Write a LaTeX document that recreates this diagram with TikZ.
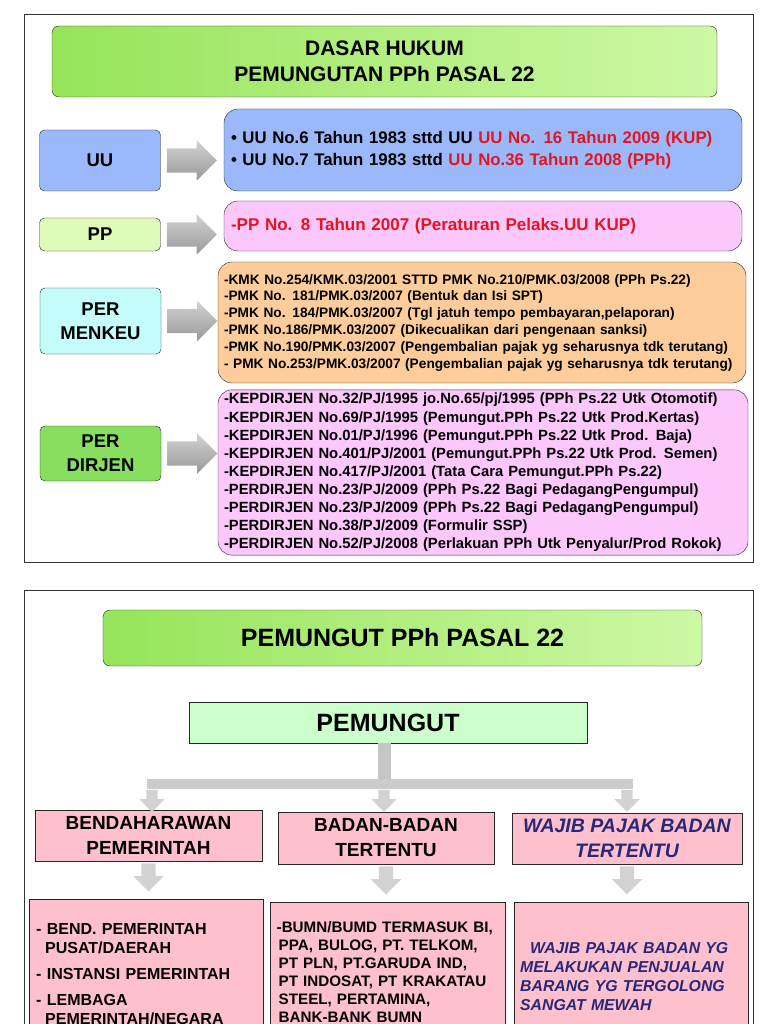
\documentclass[tikz,border=0pt]{standalone}
\usepackage{fontspec}
\setmainfont{Liberation Sans}
\usepackage{tikz}
\usetikzlibrary{shapes.arrows, positioning}
\definecolor{colorTitleL}{RGB}{150,228,90}
\definecolor{colorTitleR}{RGB}{205,248,165}
\definecolor{colorUU}{RGB}{155,185,250}
\definecolor{colorPP}{RGB}{222,250,185}
\definecolor{colorPink}{RGB}{252,200,252}
\definecolor{colorMenkeu}{RGB}{195,252,250}
\definecolor{colorOrange}{RGB}{252,205,155}
\definecolor{colorDirjen}{RGB}{135,222,95}
\definecolor{colorPemungut}{RGB}{205,255,205}
\definecolor{colorRose}{RGB}{255,192,205}
\definecolor{colorRed}{RGB}{230,20,30}
\definecolor{colorNavy}{RGB}{40,40,120}
\tikzset{
  title/.style={draw=black!85, rounded corners=7pt, left color=colorTitleL, right color=colorTitleR, align=center, font=\bfseries},
  kind/.style={draw=black!85, rounded corners=5pt, align=center, minimum width=121pt, font=\bfseries\fontsize{18.5}{24}\selectfont},
  rule/.style={draw=black!85, rounded corners=14pt, align=left, inner xsep=8pt, font=\bfseries},
  group/.style={draw=black!85, fill=colorRose, align=center, font=\bfseries\fontsize{19}{25}\selectfont},
  list/.style={draw=black!85, fill=colorRose, align=left, anchor=north west, font=\bfseries\fontsize{16}{26}\selectfont},
  fat/.style={single arrow, single arrow head extend=8pt, minimum height=50pt, text height=24pt, text depth=0pt, inner sep=0pt, top color=gray!35, bottom color=gray!80, draw=none},
  down/.style={single arrow, shape border rotate=270, text height=0pt, text depth=0pt, inner sep=0pt, fill=gray!35, draw=none},
}
\begin{document}
\begin{tikzpicture}[x=1pt, y=-1pt]
\useasboundingbox (0,0) rectangle (768,1024);
\draw[black!80] (24,14) rectangle (753,562);
\draw[black!80] (24,590) rectangle (753,1030);
% dasar hukum
\node[title, minimum width=665pt, minimum height=71pt, font=\bfseries\fontsize{21}{26}\selectfont] (dasar) at (384.5,61.5) {DASAR HUKUM\\PEMUNGUTAN PPh PASAL 22};
\node[kind, fill=colorUU, minimum height=61pt] (uu) at (100,160.5) {UU};
\node[kind, fill=colorPP, minimum height=33pt] (pp) at (100,234.5) {PP};
\node[kind, fill=colorMenkeu, minimum height=66pt] (menkeu) at (100.5,321) {PER\\MENKEU};
\node[kind, fill=colorDirjen, minimum height=55pt] (dirjen) at (100.5,453.5) {PER\\DIRJEN};
\node[rule, fill=colorUU, minimum width=518pt, minimum height=82pt, text width=504pt, inner xsep=7pt, font=\bfseries\fontsize{16.8}{22}\selectfont] (uutext) at (483,150) {%
\textbullet\ UU No.6 Tahun 1983 sttd UU \textcolor{colorRed}{UU No. 16 Tahun 2009 (KUP)}\\
\textbullet\ UU No.7 Tahun 1983 sttd \textcolor{colorRed}{UU No.36 Tahun 2008 (PPh)}};
\node[rule, fill=colorPink, minimum width=518pt, minimum height=50pt, text width=504pt, inner xsep=7pt, font=\bfseries\fontsize{17}{22}\selectfont, yshift=-2pt] (pptext) at (483,224) {\textcolor{colorRed}{-PP No. 8 Tahun 2007 (Peraturan Pelaks.UU KUP)}};
\node[rule, fill=colorOrange, minimum width=528pt, minimum height=121pt, text width=516pt, inner xsep=6pt, font=\bfseries\fontsize{13.7}{16.8}\selectfont] (menkeutext) at (482,322.5) {%
-KMK No.254/KMK.03/2001 STTD PMK No.210/PMK.03/2008 (PPh Ps.22)\\
-PMK No. 181/PMK.03/2007 (Bentuk dan Isi SPT)\\
-PMK No. 184/PMK.03/2007 (Tgl jatuh tempo pembayaran,pelaporan)\\
-PMK No.186/PMK.03/2007 (Dikecualikan dari pengenaan sanksi)\\
-PMK No.190/PMK.03/2007 (Pengembalian pajak yg seharusnya tdk terutang)\\
- PMK No.253/PMK.03/2007 (Pengembalian pajak yg seharusnya tdk terutang)};
\node[rule, fill=colorPink, minimum width=530pt, minimum height=165pt, text width=518pt, inner xsep=6pt, font=\bfseries\fontsize{14.8}{18.1}\selectfont] (dirjentext) at (483,472.5) {%
-KEPDIRJEN No.32/PJ/1995 jo.No.65/pj/1995 (PPh Ps.22 Utk Otomotif)\\
-KEPDIRJEN No.69/PJ/1995 (Pemungut.PPh Ps.22 Utk Prod.Kertas)\\
-KEPDIRJEN No.01/PJ/1996 (Pemungut.PPh Ps.22 Utk Prod. Baja)\\
-KEPDIRJEN No.401/PJ/2001 (Pemungut.PPh Ps.22 Utk Prod. Semen)\\
-KEPDIRJEN No.417/PJ/2001 (Tata Cara Pemungut.PPh Ps.22)\\
-PERDIRJEN No.23/PJ/2009 (PPh Ps.22 Bagi PedagangPengumpul)\\
-PERDIRJEN No.23/PJ/2009 (PPh Ps.22 Bagi PedagangPengumpul)\\
-PERDIRJEN No.38/PJ/2009 (Formulir SSP)\\
-PERDIRJEN No.52/PJ/2008 (Perlakuan PPh Utk Penyalur/Prod Rokok)};
\foreach \src in {uu, pp, menkeu, dirjen}
  \node[fat, right=6pt of \src] (\src arrow) {};
% pemungut
\node[title, minimum width=599pt, minimum height=56pt, font=\bfseries\fontsize{25}{28}\selectfont] (judul) at (402.5,638) {PEMUNGUT PPh PASAL 22};
\node[draw=black!85, fill=colorPemungut, minimum width=398pt, minimum height=41pt, font=\bfseries\fontsize{25}{28}\selectfont] (pemungut) at (388,722.5) {PEMUNGUT};
\node[group, minimum width=227pt, minimum height=51pt] (benda) at (148.5,835.5) {BENDAHARAWAN\\PEMERINTAH};
\node[group, minimum width=216pt, minimum height=52pt] (badan) at (386,838) {BADAN-BADAN\\TERTENTU};
\node[group, minimum width=230pt, minimum height=51pt, text=colorNavy, font=\bfseries\itshape\fontsize{19.5}{25}\selectfont] (wajib) at (627,838.5) {WAJIB PAJAK BADAN\\TERTENTU};
\coordinate (split) at (384,784);
\draw[line width=13pt, gray!45] (pemungut.south -| split) -- (split);
\draw[line width=10pt, gray!40] (147,784) -- (633,784);
\foreach \dst/\x in {benda/152, badan/384, wajib/627}
  \node[down, minimum height=22pt, text width=11pt, single arrow head extend=7pt] (\dst top) at (\x,798) {};
\foreach \src in {benda, badan, wajib}
  \node[down, minimum height=28pt, text width=14pt, single arrow head extend=8pt, below=2pt of \src] (\src arrow) {};
\node[list, minimum width=233pt, minimum height=140pt, text width=220pt, inner xsep=7pt] (bendalist) at (29,899) {%
\\[-6pt]
- BEND. PEMERINTAH\\[-7pt]
\hspace*{9pt}PUSAT/DAERAH\\
- INSTANSI PEMERINTAH\\
- LEMBAGA\\[-7pt]
\hspace*{9pt}PEMERINTAH/NEGARA};
\node[list, minimum width=235pt, minimum height=140pt, text width=222pt, inner xsep=6pt, font=\bfseries\fontsize{15.2}{18}\selectfont] (badanlist) at (270,902) {%
-BUMN/BUMD TERMASUK BI,\\
\hspace*{2pt}PPA, BULOG, PT. TELKOM,\\
\hspace*{2pt}PT PLN, PT.GARUDA IND,\\
\hspace*{2pt}PT INDOSAT, PT KRAKATAU\\
\hspace*{2pt}STEEL, PERTAMINA,\\
\hspace*{2pt}BANK-BANK BUMN};
\node[list, minimum width=234pt, minimum height=140pt, text width=222pt, inner xsep=6pt, text=colorNavy, font=\bfseries\itshape\fontsize{15.8}{19}\selectfont] (wajiblist) at (514,902) {%
\\[0pt]
\hspace*{10pt}WAJIB PAJAK BADAN YG\\
MELAKUKAN PENJUALAN\\
BARANG YG TERGOLONG\\
SANGAT MEWAH};
\end{tikzpicture}
\end{document}
